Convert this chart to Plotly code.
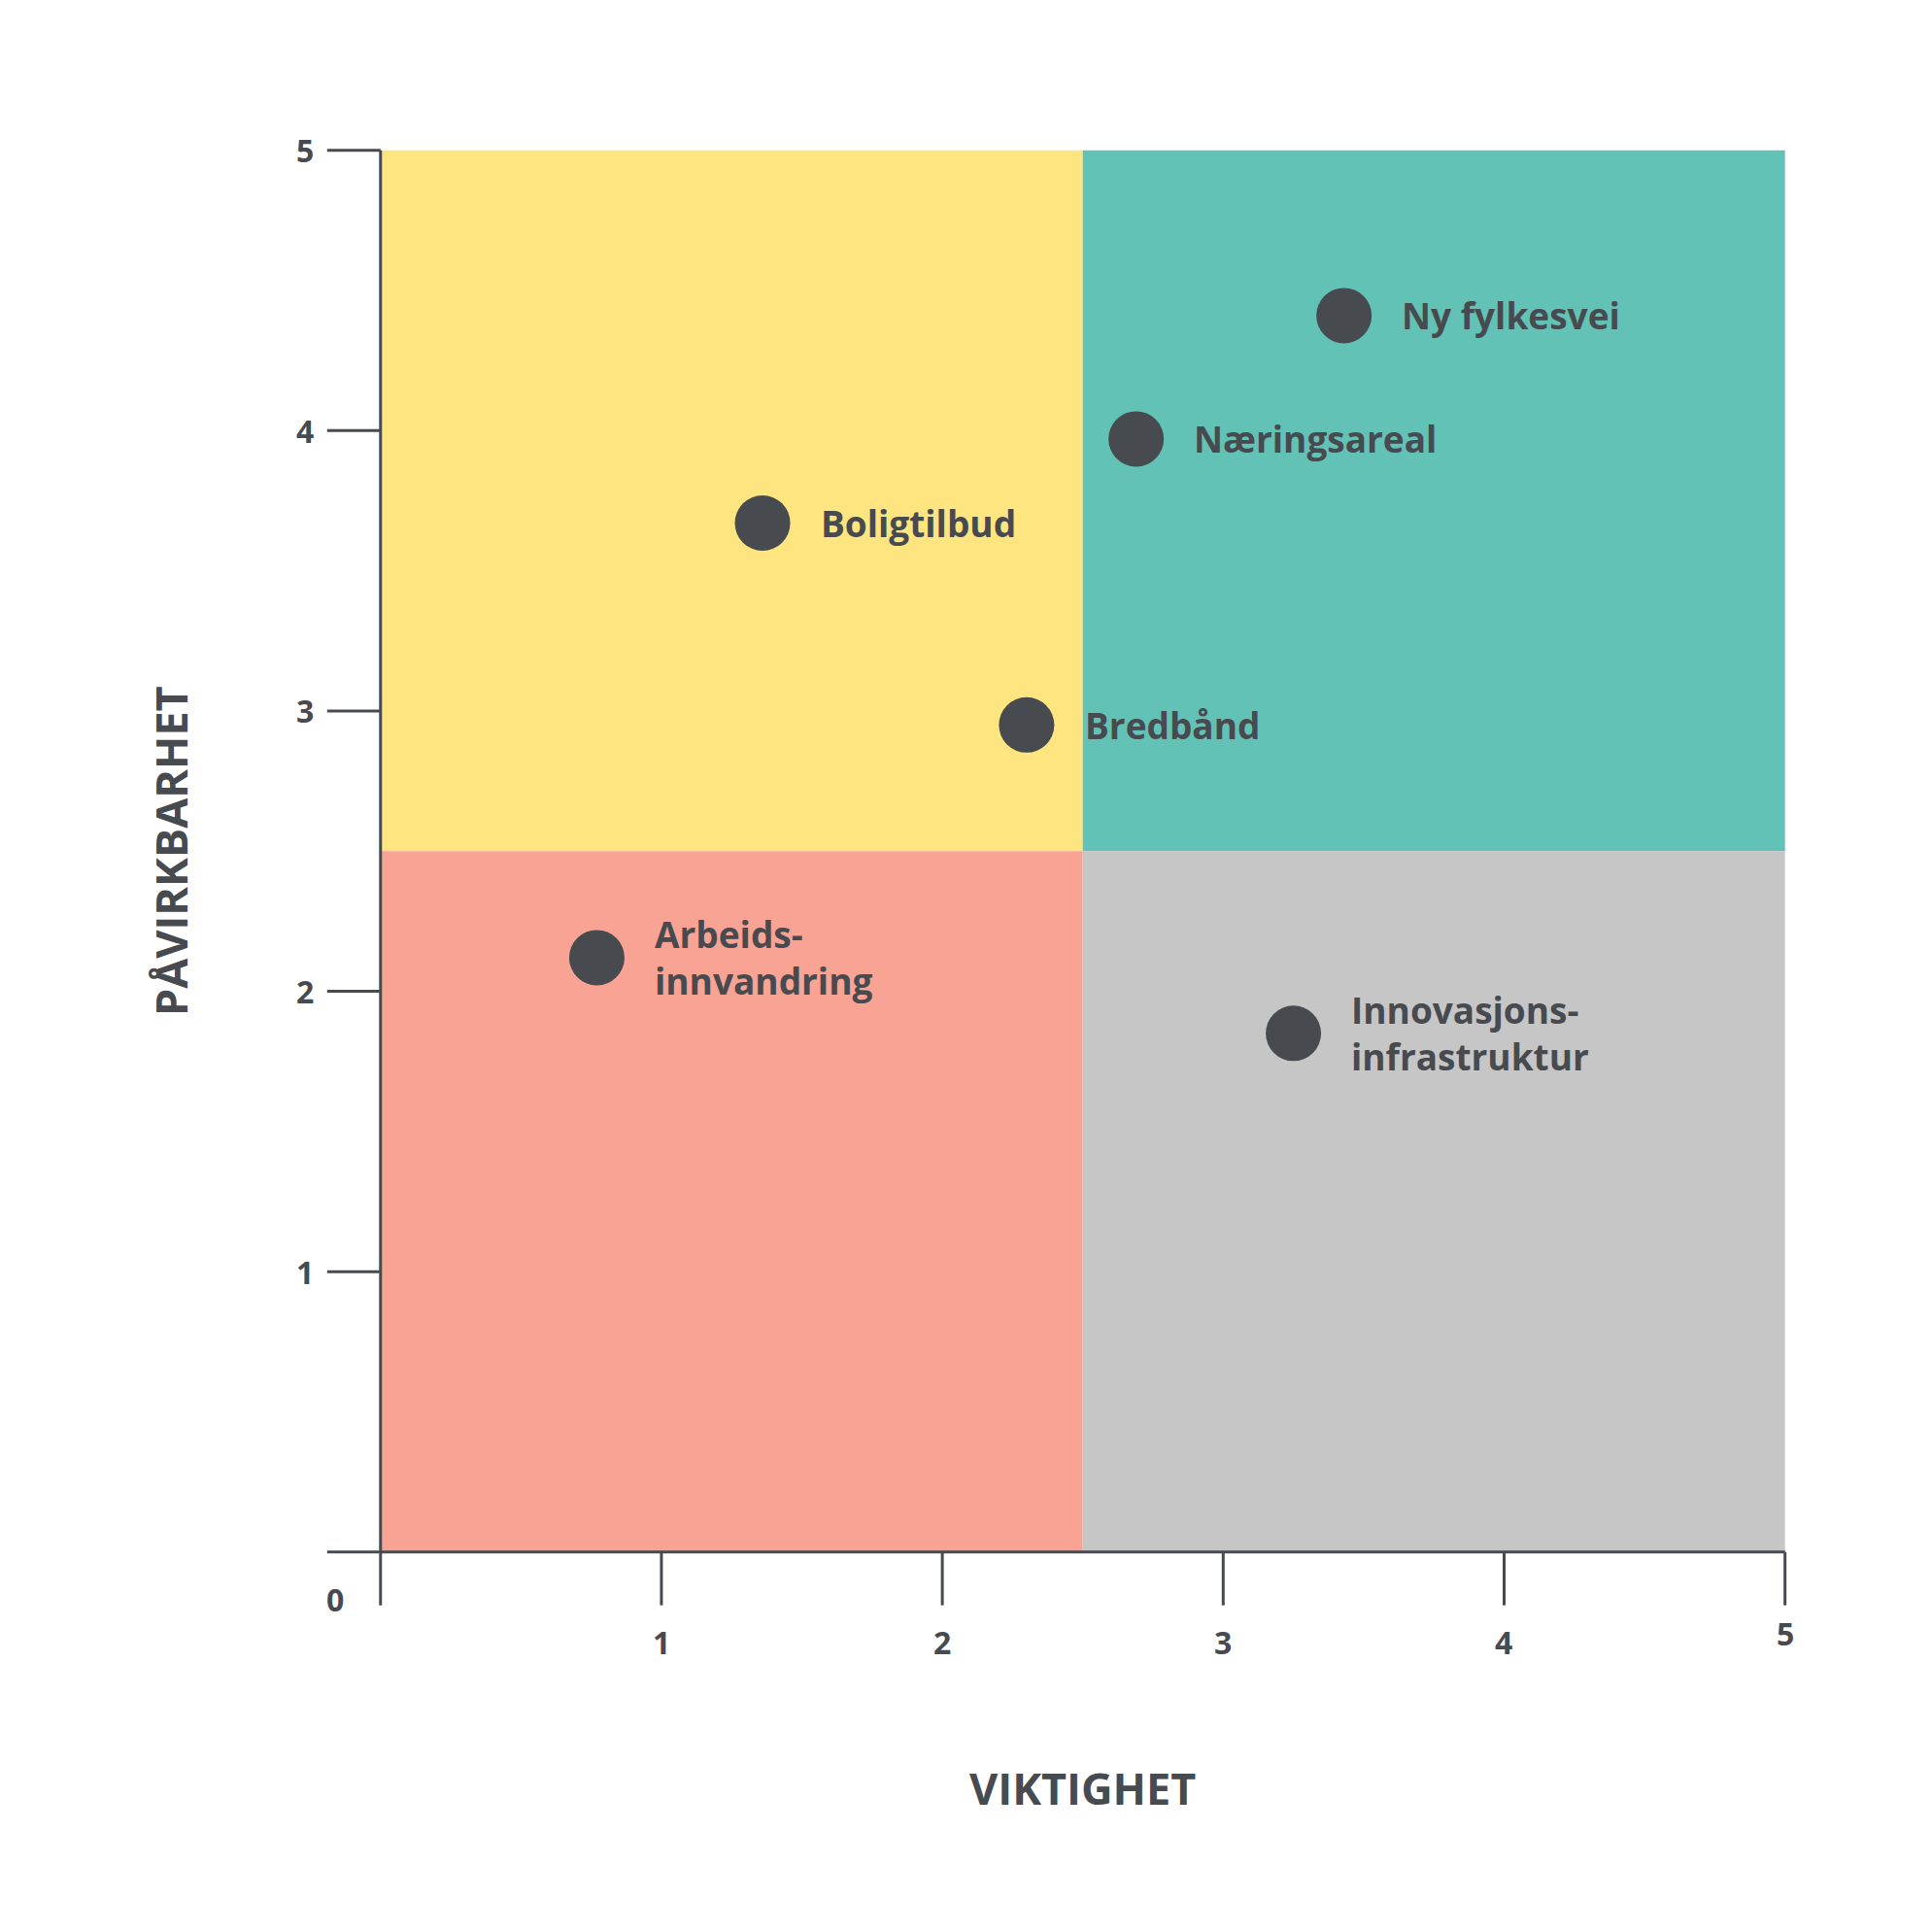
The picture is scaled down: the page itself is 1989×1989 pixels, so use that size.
import plotly.graph_objects as go

# data
names = ["Ny fylkesvei", "Næringsareal", "Boligtilbud", "Bredbånd",
         "Arbeids-<br>innvandring", "Innovasjons-<br>infrastruktur"]
viktighet = [3.43, 2.69, 1.36, 2.30, 0.77, 3.25]
pavirkbarhet = [4.41, 3.97, 3.67, 2.95, 2.12, 1.85]
ticks = [1, 2, 3, 4, 5]

quadrants = [  # x0, x1, y0, y1, colour
    (0, 2.5, 2.5, 5, "#FEE580"),
    (2.5, 5, 2.5, 5, "#63C2B6"),
    (0, 2.5, 0, 2.5, "#F9A394"),
    (2.5, 5, 0, 2.5, "#C6C6C6"),
]

INK = "#474A4F"
FONT = "Open Sans"

fig = go.Figure()
shapes = []
for x0, x1, y0, y1, c in quadrants:
    shapes.append(dict(type="rect", x0=x0, x1=x1, y0=y0, y1=y1,
                       fillcolor=c, line_width=0, layer="below"))
# axis lines
shapes.append(dict(type="line", x0=-0.19, x1=5, y0=0, y1=0, line=dict(color=INK, width=3)))
shapes.append(dict(type="line", x0=0, x1=0, y0=-0.19, y1=5, line=dict(color=INK, width=3)))
for t in ticks:
    shapes.append(dict(type="line", x0=t, x1=t, y0=0, y1=-0.19, line=dict(color=INK, width=3)))
    shapes.append(dict(type="line", x0=-0.19, x1=0, y0=t, y1=t, line=dict(color=INK, width=3)))

fig.add_trace(go.Scatter(
    x=viktighet, y=pavirkbarhet, mode="markers",
    marker=dict(size=57, color=INK), hoverinfo="skip", showlegend=False))

ann = []
for n, x, y in zip(names, viktighet, pavirkbarhet):
    ann.append(dict(x=x + 0.2, y=y, text=n, showarrow=False, xanchor="left",
                    yanchor="middle", align="left",
                    font=dict(family=FONT, size=37, color=INK, weight="bold")))
for t in ticks:
    ann.append(dict(x=t, y=-0.32 if t < 5 else -0.29, text=str(t), showarrow=False,
                    font=dict(family=FONT, size=32, color=INK, weight="bold")))
    ann.append(dict(x=-0.27, y=t, text=str(t), showarrow=False,
                    font=dict(family=FONT, size=32, color=INK, weight="bold")))
ann.append(dict(x=-0.16, y=-0.17, text="0", showarrow=False,
                font=dict(family=FONT, size=32, color=INK, weight="bold")))
ann.append(dict(x=2.5, y=-0.84, text="VIKTIGHET", showarrow=False,
                font=dict(family=FONT, size=45, color=INK, weight="bold")))
ann.append(dict(x=-0.75, y=2.5, text="PÅVIRKBARHET", showarrow=False, textangle=-90,
                font=dict(family=FONT, size=45, color=INK, weight="bold")))

fig.update_layout(
    width=1989, height=1989, margin=dict(l=0, r=0, t=0, b=0),
    paper_bgcolor="white", plot_bgcolor="white",
    xaxis=dict(range=[-1.327, 5.551], visible=False),
    yaxis=dict(range=[-1.383, 5.508], visible=False),
    shapes=shapes, annotations=ann,
)
fig.write_html("out.html")
